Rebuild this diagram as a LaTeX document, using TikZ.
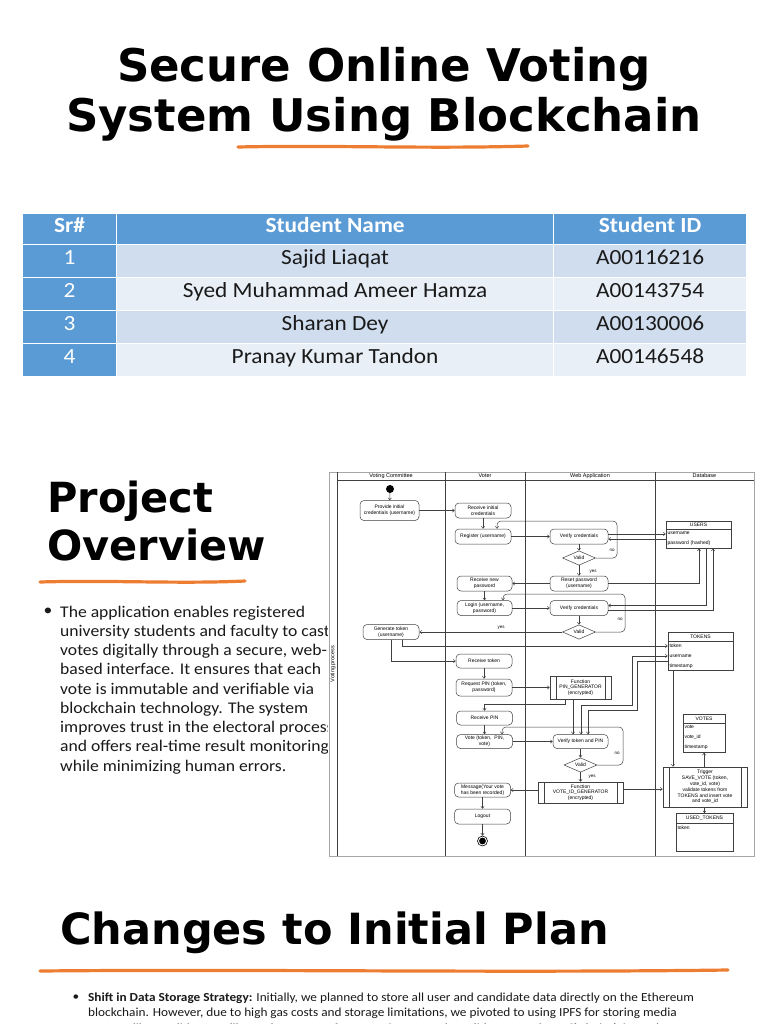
\documentclass[tikz,border=0pt]{standalone}
\usepackage{fontspec}
\setmainfont{Carlito}[FakeStretch=1.08]
\newfontfamily\headfont{DejaVu Sans}
\newfontfamily\diafont{Liberation Sans}
\usepackage{tikz}
\usetikzlibrary{shapes.geometric, shapes.multipart, arrows.meta, positioning, calc}
\definecolor{brushorange}{HTML}{ED7D31}
\definecolor{tabblue}{HTML}{5B9BD5}
\definecolor{rowA}{HTML}{CFDDEE}
\definecolor{rowB}{HTML}{E9EFF7}
\definecolor{bodytext}{HTML}{1A1A1A}

\begin{document}
\begin{tikzpicture}[
    x=1pt, y=-1pt,
    heading/.style={font=\headfont\bfseries\fontsize{45}{54}\selectfont, inner sep=0},
    section/.style={font=\headfont\bfseries\fontsize{41.5}{50}\selectfont, inner sep=0, anchor=base west},
    brush/.style={draw=brushorange, line width=3.2pt, line cap=round},
    headcell/.style={rectangle, draw=white, line width=1.2pt, fill=tabblue, text=white, minimum height=31pt, inner sep=0, text height=14pt, text depth=7.6pt, font=\bfseries\fontsize{21.6}{24}\selectfont, anchor=north west},
    bodycell/.style={rectangle, draw=white, line width=1.2pt, minimum height=33pt, inner sep=0, text height=14pt, text depth=7.6pt, font=\fontsize{21.6}{24}\selectfont, anchor=north west},
    act/.style={rectangle, rounded corners=4pt, draw=black!75, line width=0.5pt, fill=white, minimum width=56pt, minimum height=15pt, inner sep=0.5pt, align=center, font=\diafont\fontsize{5}{5.8}\selectfont},
    cond/.style={diamond, draw=black!75, line width=0.5pt, fill=white, minimum width=33pt, minimum height=13pt, inner sep=0pt, font=\diafont\fontsize{5}{5.8}\selectfont},
    func/.style={rectangle, draw=black!75, line width=0.5pt, fill=white, inner sep=0.5pt, align=center, font=\diafont\fontsize{5}{5.8}\selectfont,
        path picture={\draw[black!75, line width=0.5pt] ([xshift=6pt]path picture bounding box.north west) -- ([xshift=6pt]path picture bounding box.south west)
            ([xshift=-6pt]path picture bounding box.north east) -- ([xshift=-6pt]path picture bounding box.south east);}},
    dbtab/.style={rectangle split, rectangle split parts=2, draw=black!75, line width=0.5pt, fill=white, align=left, inner xsep=1.5pt, inner ysep=2.3pt, font=\diafont\fontsize{5}{10}\selectfont},
    lanehead/.style={font=\diafont\fontsize{5.5}{6}\selectfont, inner sep=0.5pt},
    lbl/.style={font=\diafont\fontsize{4.5}{5}\selectfont, inner sep=0.5pt},
    arrow/.style={draw=black!75, line width=0.5pt, ->, >={Straight Barb[length=2pt, width=3.2pt]}}
]
\useasboundingbox (0,0) rectangle (768,1024);
\fill[white] (0,0) rectangle (768,1024);

% Title
\node[heading, anchor=base] (title1) at (384,82) {Secure Online Voting};
\node[heading, anchor=base] (title2) at (384,132) {System Using Blockchain};
\draw[brush] (238,147) .. controls (330,145) and (430,149) .. (528,146);

% Student table
\node[headcell, minimum width=94pt] (hsr) at (22,213) {Sr\#};
\node[headcell, minimum width=437pt] (hname) at (116,213) {Student Name};
\node[headcell, minimum width=193pt] (hid) at (553,213) {Student ID};
\foreach \nr/\sname/\sid/\shade [count=\r] in {1/Sajid Liaqat/A00116216/rowA, 2/Syed Muhammad Ameer Hamza/A00143754/rowB, 3/Sharan Dey/A00130006/rowA, 4/Pranay Kumar Tandon/A00146548/rowB}{
    \node[bodycell, fill=tabblue, text=white, minimum width=94pt] (sr\r) at (22,211+33*\r) {\nr};
    \node[bodycell, fill=\shade, text=bodytext, minimum width=437pt] (name\r) at (116,211+33*\r) {\sname};
    \node[bodycell, fill=\shade, text=bodytext, minimum width=193pt] (id\r) at (553,211+33*\r) {\sid};
}

% Project overview
\node[section] (ovhead1) at (47,512) {Project};
\node[section] (ovhead2) at (47,560) {Overview};
\draw[brush] (40,582) .. controls (110,580) and (180,584) .. (245,581);
\node[inner sep=0, font=\fontsize{16.3}{19.25}\selectfont, text=bodytext] (ovbullet) at (48,612) {\textbullet};
\node[anchor=north west, align=left, inner sep=0, font=\fontsize{16.3}{19.25}\selectfont, text=bodytext] (ovtext) at (60,605.5)
    {The application enables registered\\university students and faculty to cast\\votes digitally through a secure, web-\\based interface. It ensures that each\\vote is immutable and verifiable via\\blockchain technology. The system\\improves trust in the electoral process\\and offers real-time result monitoring\\while minimizing human errors.};

% Activity diagram: frame and lanes
\fill[white] (328,471) rectangle (755,857);
\draw[gray!70, line width=0.6pt] (329,472) rectangle (754,856);
\draw[black!75, line width=0.5pt] (337,472) -- (337,856) (337,480) -- (754,480)
    (445,472) -- (445,856) (525,472) -- (525,856) (655,472) -- (655,856);
\node[lanehead] (lcomm) at (391,476) {Voting Committee};
\node[lanehead] (lvoter) at (485,476) {Voter};
\node[lanehead] (lweb) at (590,476) {Web Application};
\node[lanehead] (ldb) at (704.5,476) {Database};
\node[lanehead, rotate=90] (lpool) at (333,664) {Voting process};

% Nodes
\node[circle, fill=black, minimum size=8pt, inner sep=0] (start) at (390,489) {};
\node[act, minimum width=59pt, minimum height=20pt] (provide) at (389.5,510.5) {Provide initial\\credentials (username)};
\node[act] (recvinit) at (483,510.5) {Receive initial\\credentials};
\node[act] (register) at (483,536.5) {Register (username)};
\node[act, minimum width=58pt] (verify1) at (579,536.5) {Verify credentials};
\node[cond] (valid1) at (579,558) {Valid};
\node[act, minimum width=58pt] (reset) at (579,583.5) {Reset password\\(username)};
\node[act, minimum width=55pt] (recvnew) at (484.5,583.5) {Receive new\\password};
\node[act, minimum width=55pt] (login) at (484.5,608) {Login (username,\\password)};
\node[act, minimum width=58pt] (verify2) at (579,608) {Verify credentials};
\node[cond] (valid2) at (579,632) {Valid};
\node[act] (gentoken) at (391,632) {Generate token\\(username)};
\node[act, minimum height=14pt] (recvtoken) at (484,661) {Receive token};
\node[act, minimum height=17pt] (reqpin) at (484,687.5) {Request PIN (token,\\password)};
\node[func, minimum width=61pt, minimum height=23pt] (pingen) at (580.5,687.5) {Function\\PIN\_GENERATOR\\(encrypted)};
\node[act, minimum height=14pt] (recvpin) at (484.5,718) {Receive PIN};
\node[act, minimum height=14pt] (vote) at (484.5,741.5) {Vote (token,\ \ PIN,\\vote)};
\node[act, minimum width=55pt, minimum height=14pt] (verifytok) at (580.5,741.5) {Verify token and PIN};
\node[cond] (valid3) at (580.5,765) {Valid};
\node[func, minimum width=85pt, minimum height=21pt] (voteidgen) at (580.5,792.5) {Function\\VOTE\_ID\_GENERATOR\\(encrypted)};
\node[act, minimum height=14pt] (message) at (482.5,790) {Message(Your vote\\has been recorded)};
\node[act] (logout) at (482.5,816.5) {Logout};
\node[circle, draw=black, line width=0.6pt, minimum size=10pt, inner sep=0] (stop) at (482.5,841) {};
\fill (stop.center) circle (3.4);

\node[dbtab, text width=62pt] (users) at (698.5,534.5) {\noindent\makebox[\hsize]{USERS}\nodepart{two}username\\password (hashed)};
\node[dbtab, text width=62pt] (tokens) at (700.5,651.5) {\noindent\makebox[\hsize]{TOKENS}\nodepart{two}token\\username\\timestamp};
\node[dbtab, text width=39pt] (votes) at (704,733.5) {\noindent\makebox[\hsize]{VOTES}\nodepart{two}vote\\vote\_id\\timestamp};
\node[func, minimum width=84pt, minimum height=40pt] (trigger) at (705,787) {Trigger\\SAVE\_VOTE (token,\\vote\_id, vote)\\validate tokens from\\TOKENS and insert vote\\and vote\_id};
\node[dbtab, text width=54pt] (usedtok) at (704.5,832.5) {\noindent\makebox[\hsize]{USED\_TOKENS}\nodepart{two}token\\\mbox{}\\\mbox{}};

% Edges
\draw[arrow] (start) -- (provide);
\draw[arrow] (provide) -- (recvinit);
\draw[arrow] (recvinit) -- (register);
\draw[arrow] (register) -- (verify1);
\draw[arrow] ([yshift=2.5pt]verify1.east) -- ([yshift=2.5pt]verify1.east -| users.west);
\draw[arrow] ([yshift=-2.5pt]verify1.east -| users.west) -- ([yshift=-2.5pt]verify1.east);
\draw[arrow] (verify1) -- (valid1);
\draw[arrow, rounded corners=4pt] (valid1.east) -| (617,521) -| ([xshift=14pt]register.north);
\node[lbl] (no1) at (612,550) {no};
\draw[arrow] (valid1) -- (reset);
\node[lbl] (yes1) at (593,572) {yes};
\draw[arrow] (reset) -- (recvnew);
\draw[arrow] (reset.east) -| ([xshift=0.5pt]users.south);
\draw[arrow] (recvnew) -- (login);
\draw[arrow] (login) -- (verify2);
\draw[arrow] ([xshift=7.5pt]users.south) |- ([yshift=2.5pt]verify2.east);
\draw[arrow] ([yshift=-2.5pt]verify2.east) -| ([xshift=14.5pt]users.south);
\draw[arrow] (verify2) -- (valid2);
\draw[arrow, rounded corners=4pt] (valid2.east) -| (625,594) -| ([xshift=18.5pt]login.north);
\node[lbl] (no2) at (620,619) {no};
\draw[arrow] (valid2) -- (gentoken);
\node[lbl] (yes2) at (501,628) {yes};
\draw[arrow] ([xshift=11pt]gentoken.south) |- ([yshift=5.5pt]tokens.west);
\draw[arrow] (gentoken.south) |- (recvtoken.west);
\draw[arrow] (recvtoken) -- (reqpin);
\draw[arrow] (reqpin) -- (pingen);
\draw[arrow] ([xshift=-15.5pt]pingen.south) -- ++(0,5) -| (recvpin.north);
\draw[arrow] ([xshift=-7.5pt]pingen.south) -- ([xshift=-7.5pt]pingen.south |- verifytok.north);
\draw[arrow] (recvpin) -- (vote);
\draw[arrow] (vote) -- (verifytok);
\draw[arrow, <->] ([xshift=0.5pt]verifytok.north) |- (632,705) |- ([yshift=-4.5pt]tokens.west);
\draw[arrow] ([yshift=-9.5pt]tokens.west) -| (637,710) -| ([xshift=7.5pt]verifytok.north);
\draw[arrow] (verifytok) -- (valid3);
\draw[arrow, rounded corners=4pt] (valid3.east) -| (623,727) -| ([xshift=17.5pt]vote.north);
\node[lbl] (no3) at (617,753) {no};
\draw[arrow] (valid3) -- (voteidgen);
\node[lbl] (yes3) at (592,777) {yes};
\draw[arrow] (voteidgen.west |- message.east) -- (message.east);
\draw[arrow] ([yshift=-2pt]trigger.west -| voteidgen.east) -- ([yshift=-2pt]trigger.west);
\draw[arrow] (message) -- (logout);
\draw[arrow] (logout) -- (stop);
\draw[arrow] ([xshift=-27.5pt]tokens.south) -- ([xshift=-27.5pt]tokens.south |- trigger.north);
\draw[arrow] (trigger.north -| votes.south) -- (votes.south);
\draw[arrow] (trigger.south -| usedtok.north) -- (usedtok.north);

% Changes to initial plan
\node[section, font=\headfont\bfseries\fontsize{43}{50}\selectfont] (chhead) at (60,944) {Changes to Initial Plan};
\draw[brush] (40,971) .. controls (250,969) and (500,973) .. (728,970);
\node[inner sep=0, font=\fontsize{12.3}{15.5}\selectfont, text=bodytext] (chbullet) at (76,998) {\textbullet};
\node[anchor=north west, align=left, inner sep=0, font=\fontsize{12.3}{15.5}\selectfont, text=bodytext] (chtext) at (88,992.5)
    {\textbf{Shift in Data Storage Strategy:} Initially, we planned to store all user and candidate data directly on the Ethereum\\blockchain. However, due to high gas costs and storage limitations, we pivoted to using IPFS for storing media\\content like candidate profiles and MongoDB for managing general candidate metadata off-chain (Pinata, le};

\end{tikzpicture}
\end{document}
